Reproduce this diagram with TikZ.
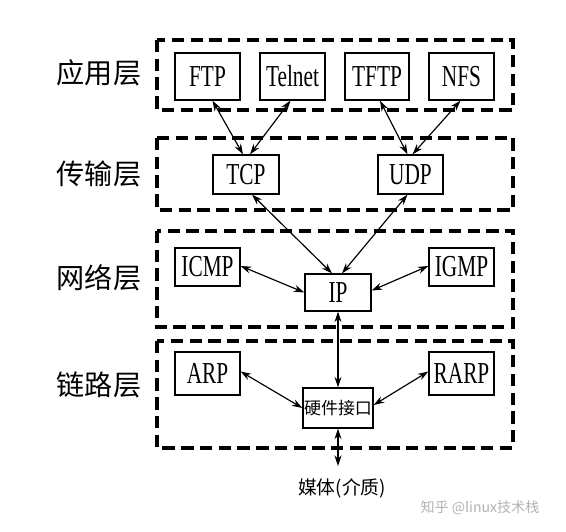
\documentclass[tikz,border=0pt]{standalone}
\usepackage{fontspec}
\usetikzlibrary{arrows.meta}
\newfontfamily\boxfont{Liberation Serif}[FakeStretch=0.7]
\newfontfamily\cjk{Noto Sans CJK SC}
\begin{document}
\begin{tikzpicture}[x=0.03cm,y=-0.03cm,
  layerbox/.style={draw,line width=2.8pt,dash pattern=on 10.5pt off 5.5pt},
  protobox/.style={draw,line width=1.1pt,inner sep=0pt,font=\boxfont\fontsize{26}{26}\selectfont},
  layerlabel/.style={font=\cjk\fontsize{24}{24}\selectfont},
  link/.style={line width=1pt,{Stealth[length=9pt,width=6pt]}-{Stealth[length=9pt,width=6pt]}}]
\useasboundingbox (0,0) rectangle (566,531);
% layer boxes
\draw[layerbox] (157,40) rectangle (513,110);
\draw[layerbox] (157,138) rectangle (513,210);
\draw[layerbox] (157,231) rectangle (513,327);
\draw[layerbox] (157,341) rectangle (513,448);
% layer labels
\node[layerlabel] (l1) at (99,73) {应用层};
\node[layerlabel] (l2) at (99,174) {传输层};
\node[layerlabel] (l3) at (99,278) {网络层};
\node[layerlabel] (l4) at (99,385) {链路层};
% application
\node[protobox,minimum width=1.95cm,minimum height=1.41cm] (ftp) at (207.5,76.5) {FTP};
\node[protobox,minimum width=1.95cm,minimum height=1.41cm] (telnet) at (292.5,76.5) {Telnet};
\node[protobox,minimum width=1.92cm,minimum height=1.41cm] (tftp) at (377,76.5) {TFTP};
\node[protobox,minimum width=1.95cm,minimum height=1.41cm] (nfs) at (461.5,76.5) {NFS};
% transport
\node[protobox,minimum width=1.98cm,minimum height=1.17cm] (tcp) at (246,174.5) {TCP};
\node[protobox,minimum width=1.95cm,minimum height=1.17cm] (udp) at (410.5,174.5) {UDP};
% network
\node[protobox,minimum width=1.95cm,minimum height=1.14cm] (icmp) at (207.5,267) {ICMP};
\node[protobox,minimum width=1.98cm,minimum height=1.11cm] (ip) at (338,292.5) {IP};
\node[protobox,minimum width=1.95cm,minimum height=1.14cm] (igmp) at (461.5,267) {IGMP};
% link
\node[protobox,minimum width=1.95cm,minimum height=1.29cm] (arp) at (207.5,373.5) {ARP};
\node[protobox,minimum width=2.1cm,minimum height=1.2cm,font=\cjk\fontsize{14.5}{14.5}\selectfont] (hw) at (338,408) {硬件接口};
\node[protobox,minimum width=1.95cm,minimum height=1.29cm] (rarp) at (461.5,373.5) {RARP};
% media
\coordinate (med) at (338,466);
\node[font=\cjk\fontsize{16}{16}\selectfont] (medlabel) at (342,488) {媒体(介质)};
\node[font=\cjk\fontsize{12}{12}\selectfont,text=black!30] (wm) at (480,508) {知乎 @linux技术栈};
% links
\draw[link] ([xshift=5*0.03cm]ftp.south) -- ([xshift=-3*0.03cm]tcp.north);
\draw[link] ([xshift=-2*0.03cm]telnet.south) -- ([xshift=4*0.03cm]tcp.north);
\draw[link] ([xshift=3*0.03cm]tftp.south) -- ([xshift=-3*0.03cm]udp.north);
\draw[link] ([xshift=-1*0.03cm]nfs.south) -- ([xshift=2*0.03cm]udp.north);
\draw[link] ([xshift=6*0.03cm]tcp.south) -- ([xshift=-6*0.03cm]ip.north);
\draw[link] ([xshift=-3*0.03cm]udp.south) -- ([xshift=4*0.03cm]ip.north);
\draw[link] ([yshift=1*0.03cm]icmp.east) -- ([yshift=0*0.03cm]ip.west);
\draw[link] ([yshift=1*0.03cm]igmp.west) -- ([yshift=2*0.03cm]ip.east);
\draw[link] (ip.south) -- (hw.north);
\draw[link] ([yshift=2*0.03cm]arp.east) -- ([yshift=0*0.03cm]hw.west);
\draw[link] ([yshift=2*0.03cm]rarp.west) -- ([yshift=3*0.03cm]hw.east);
\draw[link] (hw.south) -- (med);
\end{tikzpicture}
\end{document}
